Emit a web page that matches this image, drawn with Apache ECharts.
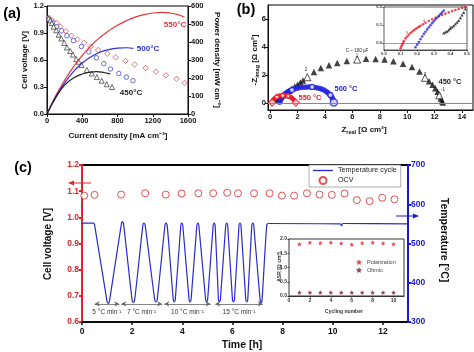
<!DOCTYPE html>
<html>
<head>
<meta charset="utf-8">
<script src="https://cdn.jsdelivr.net/npm/echarts@6/dist/echarts.min.js"></script>
<style>
html, body { margin: 0; padding: 0; background: #fff; }
#chart { width: 474px; height: 352px; }
</style>
</head>
<body>
<div id="chart"></div>
<script>
// ---- (a) polarisation curves: current density [mA cm-2] vs cell voltage [V]
const curRed = [20, 60, 110, 150, 215, 275, 345, 420, 495, 580, 685, 780, 890, 995, 1120, 1235, 1350, 1470, 1560];
const voltRed = [1.07, 1.04, 1.01, 0.97, 0.92, 0.87, 0.83, 0.79, 0.75, 0.71, 0.67, 0.63, 0.59, 0.55, 0.51, 0.47, 0.43, 0.39, 0.345];
const curBlue = [20, 60, 110, 165, 225, 300, 390, 475, 560, 645, 720, 815, 900, 975];
const voltBlue = [1.055, 1.02, 0.97, 0.925, 0.87, 0.815, 0.75, 0.69, 0.625, 0.56, 0.50, 0.45, 0.41, 0.37];
const curBlack = [19, 38, 56, 75, 105, 132, 162, 196, 226, 264, 294, 331, 360, 392, 452, 508, 565, 621, 678, 738];
const voltBlack = [1.06, 1.04, 1.01, 0.97, 0.93, 0.88, 0.84, 0.79, 0.74, 0.70, 0.66, 0.61, 0.58, 0.545, 0.49, 0.45, 0.41, 0.37, 0.33, 0.30];
// power density curves [mW cm-2]
const powCurRed = [0, 100, 200, 300, 400, 500, 600, 700, 800, 900, 1000, 1100, 1200, 1300, 1400, 1500, 1560];
const powRed = [0, 102, 188, 262, 325, 380, 425, 462, 493, 518, 538, 552, 561, 565, 561, 550, 538];
const powCurBlue = [0, 100, 200, 300, 400, 500, 600, 700, 800, 900, 980];
const powBlue = [0, 95, 172, 235, 283, 318, 343, 358, 366, 368, 365];
const powCurBlack = [0, 100, 200, 300, 400, 500, 560, 620, 680, 720];
const powBlack = [0, 92, 160, 200, 222, 233, 235, 233, 227, 222];

// ---- (b) impedance spectra: Zreal vs -Zimag [ohm cm2]
const nyBlackX = [0.5, 0.65, 0.8, 0.95, 1.1, 1.25, 1.4, 1.6, 1.8, 2.0, 2.2, 2.4, 3.2, 3.7, 4.3, 4.9, 5.6, 7.0, 7.7, 8.35, 9.0, 9.7, 10.35, 10.9, 11.6, 11.85, 12.05, 12.22, 12.45, 12.53, 12.6];
const nyBlackY = [0.2, 0.32, 0.43, 0.55, 0.66, 0.77, 0.88, 1.03, 1.17, 1.31, 1.46, 1.6, 2.22, 2.5, 2.7, 2.86, 3.0, 3.16, 3.15, 3.1, 2.98, 2.8, 2.58, 2.25, 1.55, 1.3, 1.05, 0.8, 0.32, 0.15, 0.03];
const nyBlackOpenX = [2.72, 6.35, 11.3, 12.35];
const nyBlackOpenY = [1.84, 3.1, 1.8, 0.55];
const nyBlueX = [0.7, 0.75, 0.8, 0.88, 0.97, 1.07, 1.18, 1.3, 1.43, 1.57, 1.72, 1.88, 2.05, 2.22, 2.4, 2.58, 2.76, 2.94, 3.12, 3.3, 3.47, 3.64, 3.8, 3.95, 4.09, 4.22, 4.34, 4.44, 4.52, 4.58, 4.62, 4.65];
const nyBlueY = [0.05, 0.18, 0.3, 0.42, 0.53, 0.63, 0.72, 0.8, 0.87, 0.93, 0.98, 1.03, 1.07, 1.1, 1.12, 1.13, 1.14, 1.14, 1.13, 1.11, 1.08, 1.04, 0.98, 0.91, 0.83, 0.73, 0.62, 0.5, 0.38, 0.26, 0.14, 0.03];
const nyBlueOpenX = [1.6, 3.07, 4.4, 4.65];
const nyBlueOpenY = [0.93, 1.14, 0.58, 0.03];
const nyRedX = [0.12, 0.16, 0.2, 0.26, 0.33, 0.41, 0.5, 0.6, 0.7, 0.8, 0.9, 1.0, 1.1, 1.2, 1.3, 1.4, 1.5, 1.58, 1.66, 1.73, 1.79, 1.84, 1.88];
const nyRedY = [0.02, 0.1, 0.18, 0.26, 0.33, 0.39, 0.44, 0.48, 0.5, 0.52, 0.53, 0.53, 0.53, 0.52, 0.5, 0.47, 0.42, 0.37, 0.3, 0.23, 0.15, 0.08, 0.02];
const nyRedOpenX = [0.15, 0.5, 0.92, 1.32, 1.88];
const nyRedOpenY = [0.03, 0.44, 0.53, 0.5, 0.03];
// (b) inset, high-frequency zoom
const inRedX = [0.1, 0.105, 0.11, 0.115, 0.12, 0.13, 0.14, 0.15, 0.16, 0.17, 0.18, 0.19, 0.2, 0.21, 0.22, 0.235, 0.25, 0.27, 0.29, 0.31, 0.33, 0.35, 0.37, 0.39, 0.41, 0.43, 0.45, 0.47, 0.49];
const inRedY = [-0.03, -0.02, -0.01, 0.0, 0.01, 0.025, 0.035, 0.045, 0.055, 0.063, 0.07, 0.077, 0.083, 0.089, 0.095, 0.103, 0.112, 0.122, 0.132, 0.14, 0.148, 0.156, 0.163, 0.17, 0.177, 0.183, 0.189, 0.195, 0.2];
const inBlueX = [0.19, 0.2, 0.21, 0.22, 0.23, 0.24, 0.25, 0.26, 0.27, 0.28, 0.29, 0.3, 0.31, 0.32, 0.33, 0.34, 0.35, 0.36];
const inBlueY = [-0.025, -0.01, 0.005, 0.02, 0.035, 0.05, 0.062, 0.075, 0.087, 0.098, 0.11, 0.12, 0.13, 0.14, 0.15, 0.16, 0.17, 0.18];
const inBlackX = [0.36, 0.37, 0.38, 0.39, 0.4, 0.41, 0.42, 0.43, 0.44, 0.45, 0.46, 0.47, 0.48, 0.49];
const inBlackY = [0.055, 0.06, 0.065, 0.072, 0.08, 0.088, 0.096, 0.105, 0.115, 0.125, 0.14, 0.155, 0.17, 0.19];

// ---- (c) thermal cycling: time [h]
const tempTime = [0, 0.45, 0.5, 1.0, 1.05, 1.1, 1.57, 1.61, 1.66, 2.0, 2.05, 2.1, 2.43, 2.47, 2.52, 2.9, 2.95, 3.0, 3.31, 3.35, 3.4, 3.64, 3.68, 3.72, 3.94, 3.98, 4.02, 4.27, 4.31, 4.35, 4.58, 4.62, 4.66, 4.93, 4.97, 5.01, 5.23, 5.27, 5.31, 5.44, 5.48, 5.52, 5.73, 5.77, 5.81, 6.0, 6.04, 6.08, 6.26, 6.3, 6.34, 6.53, 6.57, 6.61, 6.77, 6.81, 6.85, 7.1, 7.14, 7.18, 7.37, 7.45, 10.3, 10.35, 10.4, 13];
const tempVal = [552, 552, 548, 352, 347, 355, 550, 556, 548, 355, 350, 356, 548, 552, 546, 356, 351, 357, 547, 552, 545, 357, 351, 357, 546, 552, 546, 357, 351, 357, 546, 552, 546, 357, 351, 357, 546, 552, 546, 357, 351, 357, 546, 552, 546, 357, 351, 357, 546, 552, 546, 357, 351, 357, 546, 552, 546, 357, 349, 357, 548, 551, 550, 545, 551, 550];
const ocvTime = [0.09, 0.5, 1.56, 2.52, 3.34, 3.97, 4.64, 5.23, 5.79, 6.22, 6.86, 7.48, 7.97, 8.46, 8.97, 9.47, 9.96, 10.47, 10.96, 11.47, 11.97, 12.46];
const ocvVal = [1.083, 1.086, 1.087, 1.092, 1.087, 1.091, 1.092, 1.092, 1.094, 1.092, 1.092, 1.092, 1.083, 1.083, 1.092, 1.087, 1.086, 1.091, 1.066, 1.062, 1.075, 1.069];
const rateStart = [0.5, 1.56, 3.28, 5.31];
const rateEnd = [1.49, 3.2, 5.13, 7.21];
const rateText = ['5 °C min⁻¹', '7 °C min⁻¹', '10 °C min⁻¹', '15 °C min⁻¹'];
const rateTemp = 346;
// (c) inset: ASR per cycle
const cycles = [1, 2, 3, 4, 5, 6, 7, 8, 9, 10];
const asrPol = [1.82, 1.88, 1.86, 1.88, 1.85, 1.81, 1.86, 1.88, 1.85, 1.82];
const asrOhm = [0.12, 0.12, 0.12, 0.12, 0.12, 0.12, 0.12, 0.12, 0.12, 0.12];

const F = 'Liberation Sans, Arial, sans-serif';
const RED = '#e3363b', BLUE = '#2f2fd6', BLK = '#222';
const STAR = 'path://M0,-10L2.9,-4L9.5,-3.1L4.8,1.5L5.9,8.1L0,5L-5.9,8.1L-4.8,1.5L-9.5,-3.1L-2.9,-4Z';
const zip = (xs, ys) => xs.map((x, i) => [x, ys[i]]);

function ax(o, color, size, lw) {
  return Object.assign({
    type: 'value',
    axisLine: { show: true, onZero: false, lineStyle: { color: color, width: lw || 1 } },
    axisTick: { show: true, inside: false, length: 3, lineStyle: { color: color, width: lw || 1 } },
    axisLabel: { fontSize: size, fontWeight: 'bold', color: color, fontFamily: F, margin: 3, formatter: v => String(v) },
    splitLine: { show: false }
  }, o);
}
function merge(a, b) { // shallow merge of nested axis parts
  for (const k in b) a[k] = (typeof b[k] === 'object' && !Array.isArray(b[k]) && a[k]) ? Object.assign({}, a[k], b[k]) : b[k];
  return a;
}
function txt(x, y, text, size, color, rot, extra) {
  return {
    type: 'text', x: x, y: y, rotation: rot || 0, silent: true, z: 50,
    style: Object.assign({ text: text, fontSize: size, fontWeight: 'bold', fill: color || '#111', fontFamily: F, align: 'center', verticalAlign: 'middle' }, extra || {})
  };
}
const rich = {
  n: { fontSize: 8, fontWeight: 'bold', fontFamily: F, fill: '#111' },
  s: { fontSize: 5.5, fontWeight: 'bold', fontFamily: F, fill: '#111', verticalAlign: 'bottom', padding: [5, 0, 0, 0] }
};

const chart = echarts.init(document.getElementById('chart'));
chart.setOption({
  animation: false,
  backgroundColor: '#fff',
  textStyle: { fontFamily: F },
  grid: [
    { left: 47, top: 6, width: 141, height: 108, show: true, borderColor: '#000', borderWidth: 1, outerBoundsMode: 'none' },
    { left: 268, top: 5, width: 205, height: 105, show: true, borderColor: '#000', borderWidth: 1, outerBoundsMode: 'none' },
    { left: 384, top: 7, width: 83, height: 43, show: true, borderColor: '#333', borderWidth: 0.8, backgroundColor: '#fff', outerBoundsMode: 'none', z: 5 },
    { left: 82, top: 165, width: 326, height: 157, show: true, borderColor: '#000', borderWidth: 2, outerBoundsMode: 'none' },
    { left: 289, top: 239, width: 115, height: 57, show: true, borderColor: '#333', borderWidth: 1, backgroundColor: '#fff', outerBoundsMode: 'none', z: 5 }
  ],
  xAxis: [
    ax({ gridIndex: 0, min: 0, max: 1600, interval: 400 }, '#111', 7.5),
    merge(ax({ gridIndex: 1, min: -0.15, max: 14.8 }, '#111', 7.5),
      { axisLabel: { customValues: [0, 2, 4, 6, 8, 10, 12, 14] }, axisTick: { customValues: [0, 2, 4, 6, 8, 10, 12, 14] } }),
    merge(ax({ gridIndex: 2, min: 0, max: 0.5, interval: 0.1 }, '#333', 4.2, 0.8),
      { axisLabel: { margin: 2, formatter: v => v.toFixed(1) }, axisTick: { length: 1.5 } }),
    merge(ax({ gridIndex: 3, min: 0, max: 13 }, '#111', 8.5, 1.5),
      { axisLabel: { margin: 5, customValues: [0, 2, 4, 6, 8, 10, 12] }, axisTick: { length: 3, customValues: [0, 2, 4, 6, 8, 10, 12] } }),
    merge(ax({ gridIndex: 4, min: 0, max: 11 }, '#333', 5, 1),
      { axisLabel: { margin: 2, customValues: [0, 2, 4, 6, 8, 10] }, axisTick: { length: 1.5, customValues: [0, 2, 4, 6, 8, 10] } })
  ],
  yAxis: [
    merge(ax({ gridIndex: 0, min: 0, max: 1.2, interval: 0.3 }, '#111', 7.5), { axisLabel: { formatter: v => v.toFixed(1) } }),
    ax({ gridIndex: 0, min: 0, max: 600, interval: 100, position: 'right' }, '#111', 7.5),
    merge(ax({ gridIndex: 1, min: -0.5, max: 7 }, '#111', 7.5),
      { axisLabel: { margin: 2, customValues: [0, 2, 4, 6] }, axisTick: { customValues: [0, 2, 4, 6] } }),
    merge(ax({ gridIndex: 2, min: -0.04, max: 0.2 }, '#333', 4.2, 0.8),
      { axisLabel: { margin: 2, formatter: v => v.toFixed(1), customValues: [0, 0.1, 0.2] }, axisTick: { length: 1.5, customValues: [0, 0.1, 0.2] } }),
    merge(ax({ gridIndex: 3, min: 0.6, max: 1.2, interval: 0.1 }, '#e0262b', 8.5, 2),
      { axisLabel: { formatter: v => v.toFixed(1) } }),
    ax({ gridIndex: 3, min: 300, max: 700, interval: 100, position: 'right' }, '#1a1acc', 8.5, 2),
    merge(ax({ gridIndex: 4, min: 0, max: 2, interval: 0.5 }, '#333', 5, 1),
      { axisLabel: { margin: 2, formatter: v => v.toFixed(1) }, axisTick: { length: 1.5 } })
  ],
  legend: [
    {
      data: [{ name: 'Temperature cycle', icon: 'path://M0,0L30,0L30,2L0,2Z' }, 'OCV'],
      left: 309, top: 165, orient: 'vertical', selectedMode: false, z: 20,
      itemWidth: 20, itemHeight: 7, itemGap: 2, padding: [2, 4, 2, 4],
      borderColor: '#999', borderWidth: 0.8, backgroundColor: '#fff',
      textStyle: { fontSize: 7.2, color: '#222', fontFamily: F }
    },
    {
      data: ['Polarization', 'Ohmic'], left: 356, top: 259, orient: 'vertical', selectedMode: false, z: 20,
      itemWidth: 6, itemHeight: 6, itemGap: 2, padding: 0,
      textStyle: { fontSize: 5.5, color: '#444', fontFamily: F }
    }
  ],
  series: [
    // (a)
    { type: 'scatter', xAxisIndex: 0, yAxisIndex: 0, data: zip(curRed, voltRed), symbol: 'diamond', symbolSize: 5.5,
      itemStyle: { color: '#fff', borderColor: '#e85358', borderWidth: 1 } },
    { type: 'scatter', xAxisIndex: 0, yAxisIndex: 0, data: zip(curBlue, voltBlue), symbol: 'circle', symbolSize: 4.5,
      itemStyle: { color: '#fff', borderColor: '#4a4ad8', borderWidth: 1 } },
    { type: 'scatter', xAxisIndex: 0, yAxisIndex: 0, data: zip(curBlack, voltBlack), symbol: 'triangle', symbolSize: 5,
      itemStyle: { color: '#fff', borderColor: '#333', borderWidth: 0.9 } },
    { type: 'line', xAxisIndex: 0, yAxisIndex: 1, data: zip(powCurRed, powRed), smooth: true, symbol: 'none', lineStyle: { color: RED, width: 1.2 } },
    { type: 'line', xAxisIndex: 0, yAxisIndex: 1, data: zip(powCurBlue, powBlue), smooth: true, symbol: 'none', lineStyle: { color: BLUE, width: 1.2 } },
    { type: 'line', xAxisIndex: 0, yAxisIndex: 1, data: zip(powCurBlack, powBlack), smooth: true, symbol: 'none', lineStyle: { color: BLK, width: 1.2 } },
    // (b)
    { type: 'scatter', xAxisIndex: 1, yAxisIndex: 2, data: zip(nyBlackX, nyBlackY), symbol: 'triangle', symbolSize: 6.5, itemStyle: { color: '#111' },
      markLine: { silent: true, symbol: 'none', label: { show: false }, lineStyle: { color: '#888', width: 1, type: 'solid' }, data: [{ yAxis: 0 }] } },
    { type: 'scatter', xAxisIndex: 1, yAxisIndex: 2, data: zip(nyBlackOpenX, nyBlackOpenY), symbol: 'triangle', symbolSize: 7,
      itemStyle: { color: '#fff', borderColor: '#111', borderWidth: 0.9 } },
    { type: 'scatter', xAxisIndex: 1, yAxisIndex: 2, data: zip(nyBlueX, nyBlueY), symbol: 'circle', symbolSize: 5.5, itemStyle: { color: '#2323e0' } },
    { type: 'scatter', xAxisIndex: 1, yAxisIndex: 2, data: zip(nyBlueOpenX, nyBlueOpenY), symbol: 'circle',
      symbolSize: (v, p) => (p.dataIndex === nyBlueOpenX.length - 1 ? 7 : 5),
      itemStyle: { color: '#fff', borderColor: '#2323e0', borderWidth: 1.5 } },
    { type: 'scatter', xAxisIndex: 1, yAxisIndex: 2, data: zip(nyRedX, nyRedY), symbol: 'diamond', symbolSize: 6, itemStyle: { color: '#ee1c25' } },
    { type: 'scatter', xAxisIndex: 1, yAxisIndex: 2, data: zip(nyRedOpenX, nyRedOpenY), symbol: 'diamond',
      symbolSize: (v, p) => (p.dataIndex === 0 || p.dataIndex === nyRedOpenX.length - 1 ? 7 : 5),
      itemStyle: { color: '#fff', borderColor: '#ee1c25', borderWidth: 1.2 } },
    // (b) inset
    { type: 'scatter', xAxisIndex: 2, yAxisIndex: 3, data: zip(inRedX, inRedY), symbol: 'circle', symbolSize: 2.6, itemStyle: { color: '#ee1c25' }, z: 6,
      markLine: { silent: true, symbol: 'none', label: { show: false }, lineStyle: { color: '#888', width: 0.8, type: 'solid' }, data: [{ yAxis: 0 }] } },
    { type: 'scatter', xAxisIndex: 2, yAxisIndex: 3, data: zip(inBlueX, inBlueY), symbol: 'circle', symbolSize: 2.6, itemStyle: { color: '#2323e0' }, z: 6 },
    { type: 'scatter', xAxisIndex: 2, yAxisIndex: 3, data: zip(inBlackX, inBlackY), symbol: 'triangle', symbolSize: 3, itemStyle: { color: '#111' }, z: 6 },
    // (c)
    { name: 'Temperature cycle', type: 'line', xAxisIndex: 3, yAxisIndex: 5, data: zip(tempTime, tempVal), smooth: 0.25, symbol: 'none',
      lineStyle: { color: '#2a2ad0', width: 1.2 }, itemStyle: { color: '#2a2ad0' },
      markLine: {
        silent: true, symbol: ['arrow', 'arrow'], symbolSize: [4, 5],
        lineStyle: { color: '#666', width: 0.8, type: 'solid' },
        label: { show: true, position: 'insideMiddleBottom', formatter: '{b}', fontSize: 6.5, color: '#333', fontFamily: F, distance: 5 },
        data: rateText.map((t, i) => [{ name: t, coord: [rateStart[i], rateTemp] }, { coord: [rateEnd[i], rateTemp] }])
      } },
    { name: 'OCV', type: 'scatter', xAxisIndex: 3, yAxisIndex: 4, data: zip(ocvTime, ocvVal), symbol: 'circle', symbolSize: 7,
      itemStyle: { color: '#fff', borderColor: '#e0262b', borderWidth: 1 } },
    // (c) inset
    { name: 'Polarization', type: 'scatter', xAxisIndex: 4, yAxisIndex: 6, data: zip(cycles, asrPol), symbol: STAR, symbolSize: 4.5, itemStyle: { color: '#e8262e' }, z: 6 },
    { name: 'Ohmic', type: 'scatter', xAxisIndex: 4, yAxisIndex: 6, data: zip(cycles, asrOhm), symbol: STAR, symbolSize: 4.5, itemStyle: { color: '#7a1a2a' }, z: 6 }
  ],
  graphic: [
    // panel letters
    txt(12, 14, '(a)', 14.5, '#000'),
    txt(246, 10, '(b)', 14.5, '#000'),
    txt(23, 168, '(c)', 14.5, '#000'),
    // (a) axis titles and labels
    txt(25, 60, 'Cell voltage [V]', 8, '#111', Math.PI / 2),
    txt(118, 136, 'Current density [mA cm⁻²]', 8, '#111'),
    txt(217, 60, 'Power density [mW cm⁻²]', 8, '#111', -Math.PI / 2),
    txt(175, 25, '550°C', 8, RED),
    txt(148, 49, '500°C', 8, BLUE),
    txt(131, 93, '450°C', 8, BLK),
    // (b)
    { type: 'text', x: 255, y: 60, rotation: Math.PI / 2, silent: true, z: 50,
      style: { text: '{n|-Z}{s|imag}{n| [Ω cm²]}', rich: rich, align: 'center', verticalAlign: 'middle' } },
    { type: 'text', x: 364, y: 130, silent: true, z: 50,
      style: { text: '{n|Z}{s|real}{n| [Ω cm²]}', rich: rich, align: 'center', verticalAlign: 'middle' } },
    txt(310, 98, '550 °C', 7.5, '#ee1c25'),
    txt(346, 89, '500 °C', 7.5, '#2323e0'),
    txt(450, 82, '450 °C', 7.5, BLK),
    txt(357, 51, 'C ~ 100 µF', 4.5, '#222', 0, { fontWeight: 'normal' }),
    txt(357, 56, '1', 4.5, '#222', 0, { fontWeight: 'normal' }),
    txt(306, 70, '2', 4.5, '#222', 0, { fontWeight: 'normal' }),
    txt(425, 75, '0', 4.5, '#222', 0, { fontWeight: 'normal' }),
    txt(443, 90, '-1', 4.5, '#222', 0, { fontWeight: 'normal' }),
    txt(407, 33, '5', 4.2, '#ee1c25', 0, { fontWeight: 'normal' }),
    txt(424, 21, '4', 4.2, '#ee1c25', 0, { fontWeight: 'normal' }),
    txt(450, 28, '2', 4.2, '#222', 0, { fontWeight: 'normal' }),
    // (c)
    txt(48, 244, 'Cell voltage [V]', 10, '#111', Math.PI / 2),
    txt(242, 345, 'Time [h]', 10.5, '#111'),
    txt(444, 240, 'Temperature [°C]', 10.5, '#111', -Math.PI / 2),
    txt(280, 267, 'ASR [Ω cm²]', 5, '#333', Math.PI / 2),
    txt(344, 312, 'Cycling number', 5, '#333'),
    // direction arrows
    { type: 'line', silent: true, z: 50, shape: { x1: 73, y1: 183, x2: 91, y2: 183 }, style: { stroke: '#e0262b', lineWidth: 1 } },
    { type: 'polygon', silent: true, z: 50, shape: { points: [[68, 183], [74, 180.5], [74, 185.5]] }, style: { fill: '#e0262b' } },
    { type: 'line', silent: true, z: 50, shape: { x1: 396, y1: 216, x2: 413, y2: 216 }, style: { stroke: '#1a1acc', lineWidth: 1 } },
    { type: 'polygon', silent: true, z: 50, shape: { points: [[419, 216], [413, 213.5], [413, 218.5]] }, style: { fill: '#1a1acc' } }
  ]
});
</script>
</body>
</html>
